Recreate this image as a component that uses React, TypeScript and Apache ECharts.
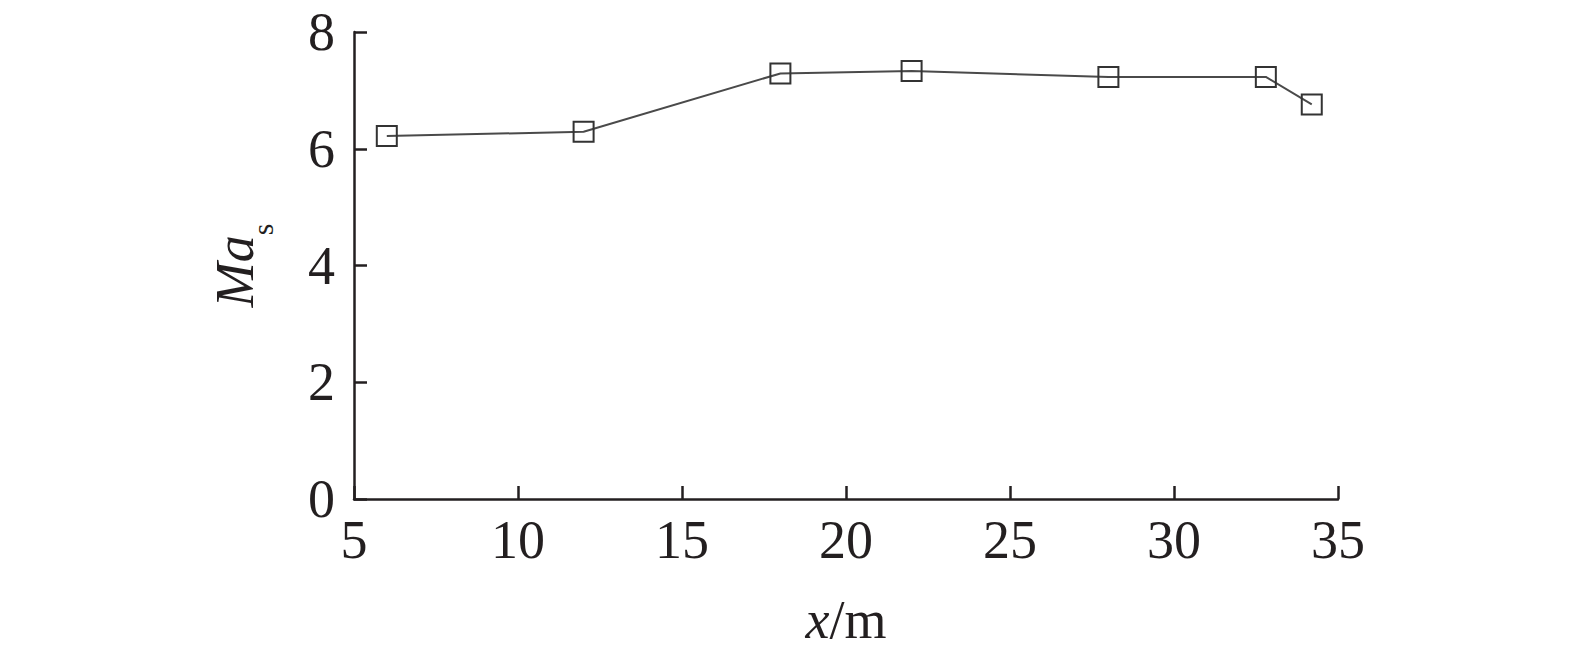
import React, { useEffect, useRef } from 'react';
import * as echarts from 'echarts';

// distance along the line (m) and Mach number
const xValues = [6, 12, 18, 22, 28, 32.8, 34.2];
const masValues = [6.22, 6.29, 7.29, 7.33, 7.23, 7.23, 6.76];

const FONT = '"Liberation Serif", "Times New Roman", serif';
const AXIS_COLOR = '#231f20';

export default function App() {
  const chartRef = useRef<HTMLDivElement>(null);

  useEffect(() => {
    if (!chartRef.current) return;
    const chart = echarts.init(chartRef.current, undefined, { renderer: 'svg' });

    const axisCommon = {
      axisLine: { show: true, lineStyle: { color: AXIS_COLOR, width: 2.5 } },
      axisTick: { show: true, inside: true, length: 13, lineStyle: { color: AXIS_COLOR, width: 2.5 } },
      splitLine: { show: false },
    };

    chart.setOption({
      animation: false,
      backgroundColor: '#ffffff',
      grid: { left: 354, top: 32, width: 984, height: 467, containLabel: false },
      xAxis: {
        type: 'value',
        min: 5,
        max: 35,
        interval: 5,
        ...axisCommon,
        axisLabel: { color: AXIS_COLOR, fontFamily: FONT, fontSize: 54, margin: 14 },
        name: '{i|x}{n|/m}',
        nameLocation: 'middle',
        nameGap: 94,
        nameTextStyle: {
          rich: {
            i: { fontFamily: FONT, fontSize: 54, fontStyle: 'italic', color: AXIS_COLOR },
            n: { fontFamily: FONT, fontSize: 54, color: AXIS_COLOR },
          },
        },
      },
      yAxis: {
        type: 'value',
        min: 0,
        max: 8,
        interval: 2,
        ...axisCommon,
        axisLabel: { color: AXIS_COLOR, fontFamily: FONT, fontSize: 54, margin: 19 },
        name: '{m|Ma}{s|s}',
        nameLocation: 'middle',
        nameRotate: 90,
        nameGap: 77,
        nameTextStyle: {
          rich: {
            m: {
              fontFamily: FONT,
              fontSize: 54,
              fontStyle: 'italic',
              lineHeight: 84,
              verticalAlign: 'middle',
              color: AXIS_COLOR,
            },
            s: {
              fontFamily: FONT,
              fontSize: 30,
              lineHeight: 30,
              verticalAlign: 'bottom',
              color: AXIS_COLOR,
            },
          },
        },
      },
      series: [
        {
          type: 'line',
          data: xValues.map((x, i) => [x, masValues[i]]),
          symbol: 'rect',
          symbolSize: 20,
          lineStyle: { color: '#4a4a4a', width: 2 },
          itemStyle: { color: 'rgba(0,0,0,0)', borderColor: '#333333', borderWidth: 2 },
        },
      ],
    });

    return () => {
      chart.dispose();
    };
  }, []);

  return (
    <div
      ref={chartRef}
      style={{ position: 'fixed', left: 0, top: 0, width: 1575, height: 657, background: '#fff' }}
    />
  );
}
